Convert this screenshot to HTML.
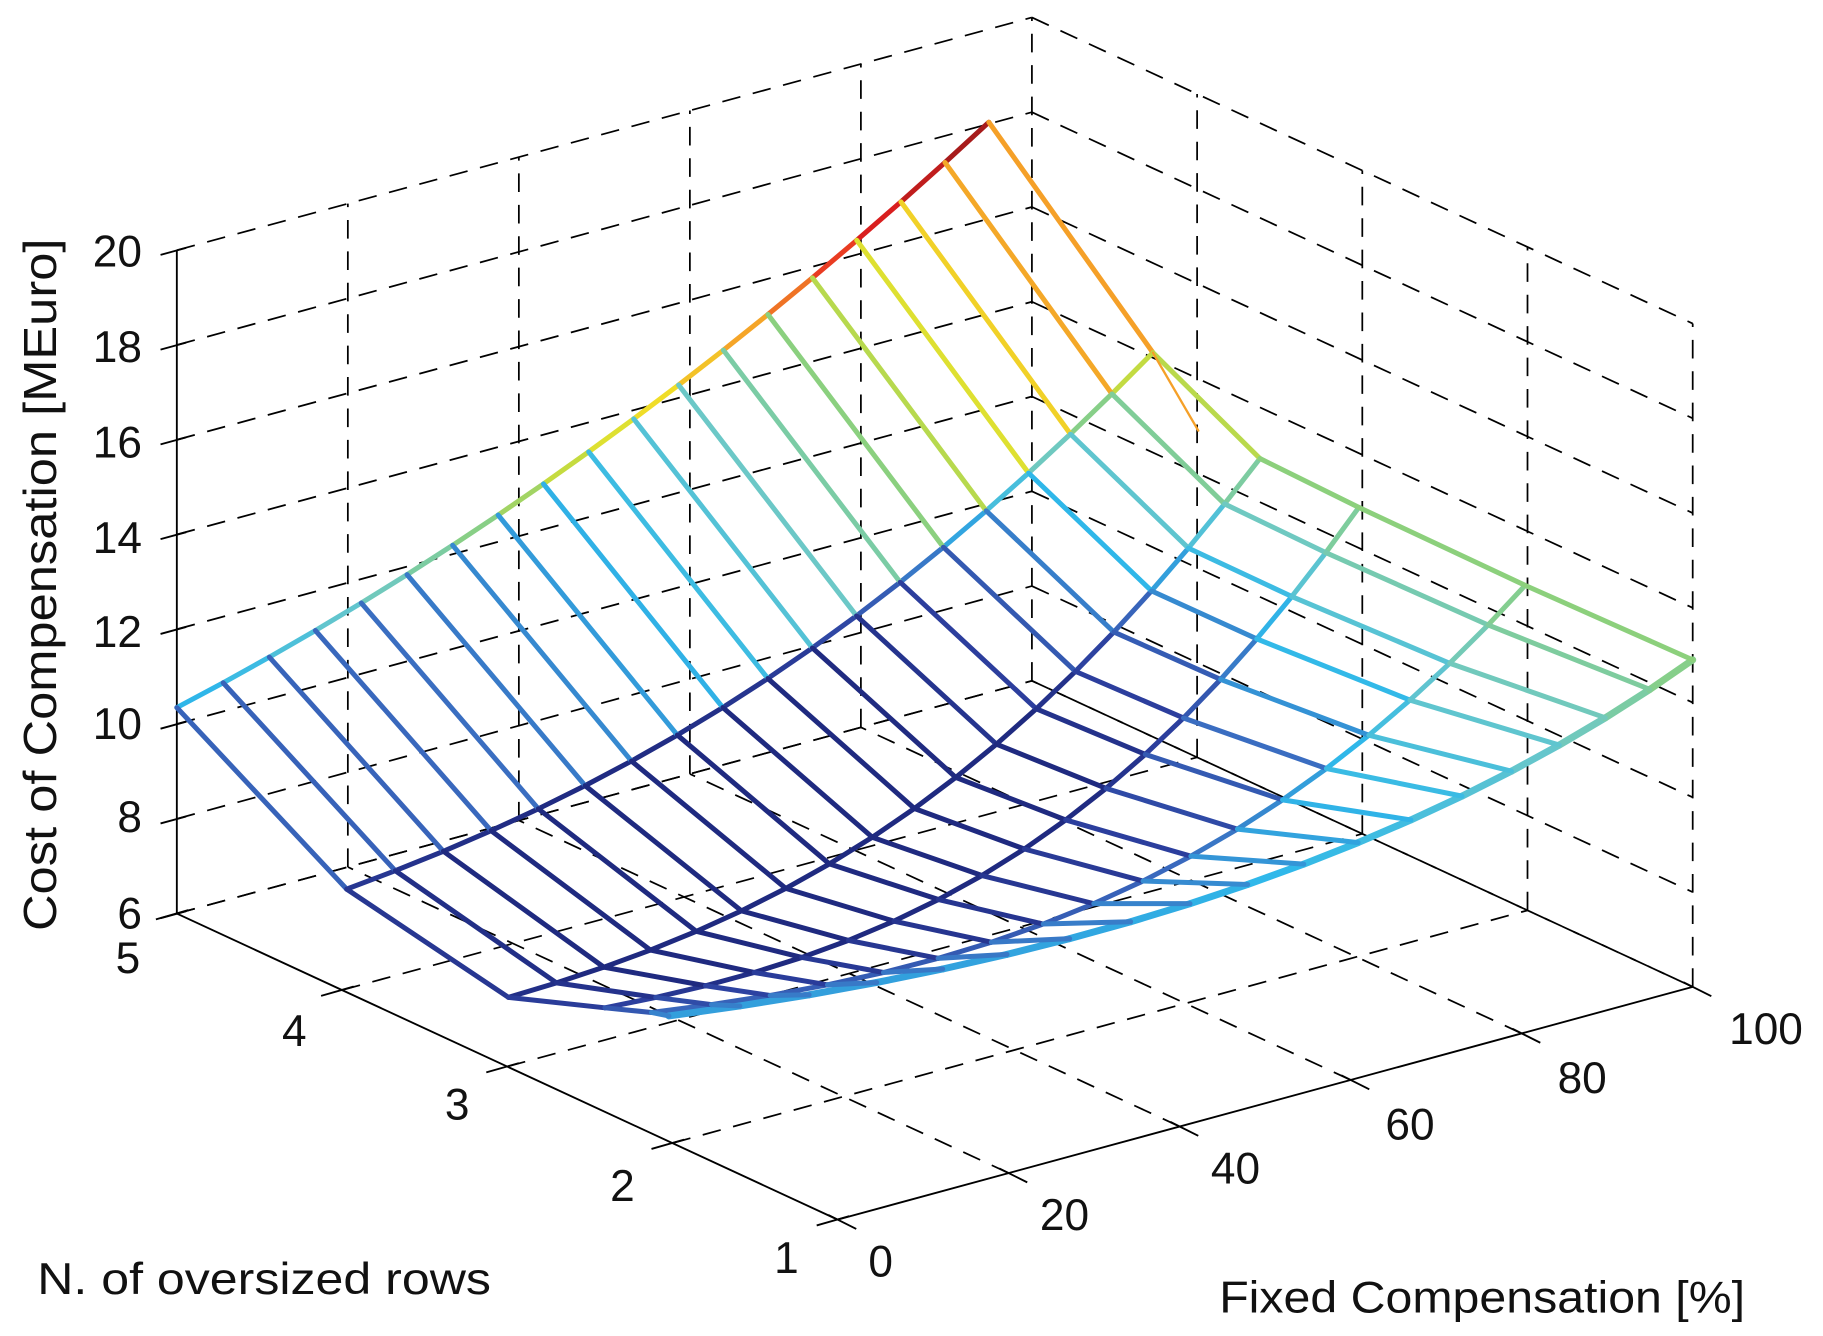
<!DOCTYPE html>
<html><head><meta charset="utf-8"><style>
html,body{margin:0;padding:0;background:#fff;}
svg{display:block}
text{font-family:"Liberation Sans",sans-serif;fill:#111}
</style></head><body>
<svg id="s" width="1823" height="1336" viewBox="0 0 1567 1148" preserveAspectRatio="none" xmlns="http://www.w3.org/2000/svg">
<rect width="1567" height="1148" fill="#fff"/>
<g id="grid" stroke="#000" stroke-width="1.5" stroke-dasharray="16,11" fill="none"></g>
<g id="axes" stroke="#000" stroke-width="1.6" fill="none"></g>
<g id="mesh" fill="none" stroke-linecap="round" stroke-linejoin="round"></g>
<g font-size="38">
<text x="122" y="229" text-anchor="end">20</text>
<text x="122" y="311" text-anchor="end">18</text>
<text x="122" y="393" text-anchor="end">16</text>
<text x="122" y="475" text-anchor="end">14</text>
<text x="122" y="556" text-anchor="end">12</text>
<text x="122" y="635" text-anchor="end">10</text>
<text x="122" y="715" text-anchor="end">8</text>
<text x="122" y="798" text-anchor="end">6</text>
<text x="110" y="836" text-anchor="middle">5</text>
<text x="253" y="899" text-anchor="middle">4</text>
<text x="393" y="962" text-anchor="middle">3</text>
<text x="535" y="1032" text-anchor="middle">2</text>
<text x="676" y="1094" text-anchor="middle">1</text>
<text x="757" y="1097" text-anchor="middle">0</text>
<text x="915" y="1057" text-anchor="middle">20</text>
<text x="1062" y="1017" text-anchor="middle">40</text>
<text x="1212" y="979" text-anchor="middle">60</text>
<text x="1360" y="939" text-anchor="middle">80</text>
<text x="1518" y="897" text-anchor="middle">100</text>
<text x="32" y="1112" textLength="390" lengthAdjust="spacingAndGlyphs">N. of oversized rows</text>
<text x="1048" y="1128" textLength="452" lengthAdjust="spacingAndGlyphs">Fixed Compensation [%]</text>
<text transform="translate(48,800) rotate(-90)" x="0" y="0" textLength="595" lengthAdjust="spacingAndGlyphs" font-size="40">Cost of Compensation [MEuro]</text>
</g>
</svg>
<script>
(function(){
var NS="http://www.w3.org/2000/svg";
function ln(g,x1,y1,x2,y2,attrs){var e=document.createElementNS(NS,"line");e.setAttribute("x1",x1);e.setAttribute("y1",y1);e.setAttribute("x2",x2);e.setAttribute("y2",y2);if(attrs)for(var k in attrs)e.setAttribute(k,attrs[k]);g.appendChild(e);return e;}
function P(f,r,z){var a=f/100,b=(r-1)/4,c=(z-6)/14;return [720+735*a-568*b, 1048-200*a-263*b-570*c];}
var G=document.getElementById("grid"),AX=document.getElementById("axes"),M=document.getElementById("mesh");
var z,f,r,p,q;
for(z=6;z<=20;z+=2){p=P(0,5,z);q=P(100,5,z);ln(G,p[0],p[1],q[0],q[1]);}
for(f=20;f<=100;f+=20){p=P(f,5,6);q=P(f,5,20);ln(G,p[0],p[1],q[0],q[1]);}
for(z=6;z<=20;z+=2){p=P(100,5,z);q=P(100,1,z);ln(G,p[0],p[1],q[0],q[1]);}
for(r=1;r<=4;r++){p=P(100,r,6);q=P(100,r,20);ln(G,p[0],p[1],q[0],q[1]);}
for(f=20;f<=100;f+=20){p=P(f,1,6);q=P(f,5,6);ln(G,p[0],p[1],q[0],q[1]);}
for(r=2;r<=5;r++){p=P(0,r,6);q=P(100,r,6);ln(G,p[0],p[1],q[0],q[1]);}
p=P(0,5,6);q=P(0,5,20);ln(AX,p[0],p[1],q[0],q[1]);
p=P(0,1,6);q=P(0,5,6);ln(AX,p[0],p[1],q[0],q[1]);
p=P(0,1,6);q=P(100,1,6);ln(AX,p[0],p[1],q[0],q[1]);
for(z=6;z<=20;z+=2){p=P(0,5,z);ln(AX,p[0]-14,p[1]+4,p[0]+8,p[1]-2);}
for(r=1;r<=5;r++){p=P(0,r,6);ln(AX,p[0]-18,p[1]+5,p[0]+10,p[1]-3);}
for(f=0;f<=100;f+=20){p=P(f,1,6);ln(AX,p[0]-8,p[1]-4,p[0]+16,p[1]+8);}
var A=[152,608],B=[850,105],C=[1455,567],D=[575,873];
function quad(a,c,b,t){return [(1-t)*(1-t)*a[0]+2*t*(1-t)*c[0]+t*t*b[0],(1-t)*(1-t)*a[1]+2*t*(1-t)*c[1]+t*t*b[1]];}
function T(u){return quad(A,[511,420],B,u);}
function Bt(u){return quad(D,[1130,800],C,u);}
var Lp=[A,[298,764],[437,857],[520,866],[560,870],D];
var Rp=[B,[991,303],[1083,394],[1168,436],[1311,503],C];
function pl(arr,v){var s=v*5,i=Math.min(4,Math.floor(s)),t=s-i;var a=arr[i],b=arr[i+1];if(a.length===undefined)return a+(b-a)*t;return [a[0]+(b[0]-a[0])*t,a[1]+(b[1]-a[1])*t];}
function Pt(u,v){var t=T(u),b=Bt(u),l=pl(Lp,v),rr=pl(Rp,v);var o=[];for(var k=0;k<2;k++){o[k]=(1-v)*t[k]+v*b[k]+(1-u)*l[k]+u*rr[k]-((1-u)*(1-v)*A[k]+u*(1-v)*B[k]+(1-u)*v*D[k]+u*v*C[k]);}o[1]+=45*Math.sin(Math.PI*u)*Math.pow(v,1.5)*(1-v)*5;return o;}
var Rc=[20.5,15,13.5,13.5,13.5,13.5],Lc=[10.3,7,6.5,7.5,8.5,9.5];
function Tc(u){return 10.3+10.2*Math.pow(u,1.2);}
function Bc(u){return 10+3.5*u*u*u;}
function val(u,v){return (1-v)*Tc(u)+v*Bc(u)+(1-u)*pl(Lc,v)+u*pl(Rc,v)-((1-u)*(1-v)*10.3+u*(1-v)*20.5+(1-u)*v*9.5+u*v*13.5)-5*Math.sin(Math.PI*u)*Math.sin(Math.PI*Math.min(1,v*1.15));}
var stops=[[6,[31,42,128]],[7.5,[44,63,158]],[9,[58,108,192]],[10.5,[47,184,234]],[12,[108,200,200]],[13.5,[140,208,124]],[14.5,[200,220,60]],[15.5,[240,228,40]],[17,[245,160,40]],[18.5,[229,32,32]],[20.5,[154,26,26]]];
function cmap(c){if(c<=stops[0][0])return "rgb("+stops[0][1].join(",")+")";for(var i=0;i<stops.length-1;i++){var a=stops[i],b=stops[i+1];if(c<=b[0]){var t=(c-a[0])/(b[0]-a[0]);return "rgb("+[0,1,2].map(function(k){return Math.round(a[1][k]+(b[1][k]-a[1][k])*t);}).join(",")+")";}}return "rgb("+stops[stops.length-1][1].join(",")+")";}
var NI=18,NJ=5,i,j,u,v,u2,v2,a,b,col;
for(j=0;j<=NJ;j++){v=j/NJ;for(i=0;i<NI;i++){u=i/NI;u2=(i+1)/NI;a=Pt(u,v);b=Pt(u2,v);ln(M,a[0],a[1],b[0],b[1],{stroke:cmap((val(u,v)+val(u2,v))/2),"stroke-width":(j==NJ?6:4.3)});}}
for(i=0;i<=NI;i++){u=i/NI;for(j=0;j<NJ;j++){v=j/NJ;v2=(j+1)/NJ;a=Pt(u,v);b=Pt(u,v2);col=cmap((val(u,v)+val(u,v2))/2);if(i==NI&&j==0)col="rgb(245,160,40)";ln(M,a[0],a[1],b[0],b[1],{stroke:col,"stroke-width":4.3});}}
ln(M,991,303,1030,370,{stroke:"rgb(245,160,40)","stroke-width":2});
})();
</script>
</body></html>
